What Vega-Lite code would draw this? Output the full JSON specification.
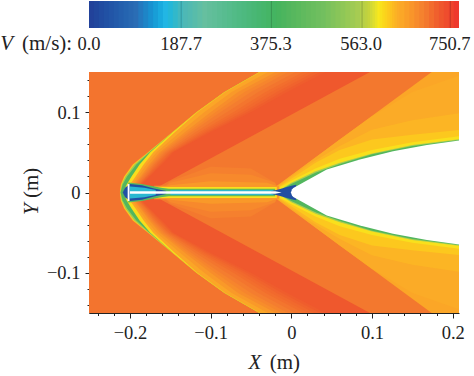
{"$schema":"https://vega.github.io/schema/vega-lite/v6.json","background":"white","padding":0,"bounds":"flush","spacing":44,"config":{"view":{"stroke":null},"text":{"font":"Liberation Serif","fontSize":18.5,"color":"#222"},"axis":{"labelFont":"Liberation Serif","labelFontSize":18.5,"labelColor":"#222"}},
"datasets":{"bar":[{"v":0},{"v":10},{"v":20},{"v":30},{"v":40},{"v":50},{"v":60},{"v":70},{"v":80},{"v":90},{"v":100},{"v":110},{"v":120},{"v":130},{"v":140},{"v":150},{"v":160},{"v":170},{"v":180},{"v":190},{"v":200},{"v":210},{"v":220},{"v":230},{"v":240},{"v":250},{"v":260},{"v":270},{"v":280},{"v":290},{"v":300},{"v":310},{"v":320},{"v":330},{"v":340},{"v":350},{"v":360},{"v":370},{"v":380},{"v":390},{"v":400},{"v":410},{"v":420},{"v":430},{"v":440},{"v":450},{"v":460},{"v":470},{"v":480},{"v":490},{"v":500},{"v":510},{"v":520},{"v":530},{"v":540},{"v":550},{"v":555},{"v":560},{"v":565},{"v":570},{"v":575},{"v":580},{"v":585},{"v":590},{"v":595},{"v":600},{"v":605},{"v":610},{"v":615},{"v":620},{"v":625},{"v":630},{"v":640},{"v":650},{"v":660},{"v":670},{"v":680},{"v":690},{"v":700},{"v":710},{"v":720},{"v":730},{"v":740}],
"barticks":[{"v":187},{"v":370},{"v":554},{"v":733}],
"barlabels":[{"t":"0.0","v":0,"h":-0.6},{"t":"187.7","v":187,"h":-0.6},{"t":"375.3","v":369,"h":-0.6},{"t":"563.0","v":552,"h":-0.6},{"t":"750.7","v":732,"h":-0.6}],
"bartitle":[{"t":"(m/s):","v":-136,"h":-0.6}],
"bartitleV":[{"t":"V","v":-180,"h":-0.6}],
"titlesItalic":[{"t":"X","x":-0.045,"y":-0.2124,"a":0},{"t":"Y","x":-0.3213,"y":-0.0208,"a":270}],
"titles":[{"t":"(m)","x":-0.008,"y":-0.2124,"a":0},{"t":"(m)","x":-0.3213,"y":0.012,"a":270}],
"flow":[
{"r":"bg","v":683,"x":-0.26,"y":0.2,"y2":-0.2},{"r":"bg","v":683,"x":0.25,"y":0.2,"y2":-0.2},
{"r":"c1","v":652,"x":-0.2125,"y":0,"y2":0},{"r":"c1","v":652,"x":-0.2115,"y":0.01,"y2":-0.01},{"r":"c1","v":652,"x":-0.2075,"y":0.02,"y2":-0.02},{"r":"c1","v":652,"x":-0.197,"y":0.035,"y2":-0.035},{"r":"c1","v":652,"x":-0.178,"y":0.05,"y2":-0.05},{"r":"c1","v":652,"x":-0.148,"y":0.075,"y2":-0.075},{"r":"c1","v":652,"x":-0.118,"y":0.1,"y2":-0.1},{"r":"c1","v":652,"x":-0.083,"y":0.125,"y2":-0.125},{"r":"c1","v":652,"x":-0.031,"y":0.155,"y2":-0.155},{"r":"c1","v":652,"x":0.25,"y":0.155,"y2":-0.155},
{"r":"c2","v":600,"x":-0.2122,"y":0,"y2":0},{"r":"c2","v":600,"x":-0.211,"y":0.01,"y2":-0.01},{"r":"c2","v":600,"x":-0.2068,"y":0.02,"y2":-0.02},{"r":"c2","v":600,"x":-0.196,"y":0.035,"y2":-0.035},{"r":"c2","v":600,"x":-0.1772,"y":0.05,"y2":-0.05},{"r":"c2","v":600,"x":-0.147,"y":0.075,"y2":-0.075},{"r":"c2","v":600,"x":-0.1175,"y":0.1,"y2":-0.1},{"r":"c2","v":600,"x":-0.0828,"y":0.125,"y2":-0.125},{"r":"c2","v":600,"x":-0.0308,"y":0.155,"y2":-0.155},{"r":"c2","v":600,"x":0.25,"y":0.155,"y2":-0.155},
{"r":"c3","v":530,"x":-0.212,"y":0,"y2":0},{"r":"c3","v":530,"x":-0.2102,"y":0.01,"y2":-0.01},{"r":"c3","v":530,"x":-0.2055,"y":0.02,"y2":-0.02},{"r":"c3","v":530,"x":-0.1945,"y":0.035,"y2":-0.035},{"r":"c3","v":530,"x":-0.1768,"y":0.05,"y2":-0.05},{"r":"c3","v":530,"x":-0.1466,"y":0.075,"y2":-0.075},{"r":"c3","v":530,"x":-0.1168,"y":0.1,"y2":-0.1},{"r":"c3","v":530,"x":-0.0822,"y":0.125,"y2":-0.125},{"r":"c3","v":530,"x":-0.0303,"y":0.155,"y2":-0.155},{"r":"c3","v":530,"x":0.25,"y":0.155,"y2":-0.155},
{"r":"c4","v":400,"x":-0.2115,"y":0,"y2":0},{"r":"c4","v":400,"x":-0.209,"y":0.01,"y2":-0.01},{"r":"c4","v":400,"x":-0.2035,"y":0.02,"y2":-0.02},{"r":"c4","v":400,"x":-0.192,"y":0.035,"y2":-0.035},{"r":"c4","v":400,"x":-0.1755,"y":0.05,"y2":-0.05},{"r":"c4","v":400,"x":-0.1462,"y":0.075,"y2":-0.075},{"r":"c4","v":400,"x":-0.1165,"y":0.1,"y2":-0.1},{"r":"c4","v":400,"x":-0.082,"y":0.125,"y2":-0.125},{"r":"c4","v":400,"x":-0.03,"y":0.155,"y2":-0.155},{"r":"c4","v":400,"x":0.25,"y":0.155,"y2":-0.155},
{"r":"c5","v":592,"x":-0.2085,"y":0,"y2":0},{"r":"c5","v":592,"x":-0.204,"y":0.01,"y2":-0.01},{"r":"c5","v":592,"x":-0.198,"y":0.02,"y2":-0.02},{"r":"c5","v":592,"x":-0.188,"y":0.035,"y2":-0.035},{"r":"c5","v":592,"x":-0.1748,"y":0.05,"y2":-0.05},{"r":"c5","v":592,"x":-0.1468,"y":0.075,"y2":-0.075},{"r":"c5","v":592,"x":-0.1172,"y":0.1,"y2":-0.1},{"r":"c5","v":592,"x":-0.0825,"y":0.125,"y2":-0.125},{"r":"c5","v":592,"x":-0.0305,"y":0.155,"y2":-0.155},{"r":"c5","v":592,"x":0.25,"y":0.155,"y2":-0.155},
{"r":"c6","v":632,"x":-0.205,"y":0,"y2":0},{"r":"c6","v":632,"x":-0.2,"y":0.01,"y2":-0.01},{"r":"c6","v":632,"x":-0.193,"y":0.02,"y2":-0.02},{"r":"c6","v":632,"x":-0.183,"y":0.035,"y2":-0.035},{"r":"c6","v":632,"x":-0.171,"y":0.05,"y2":-0.05},{"r":"c6","v":632,"x":-0.1445,"y":0.075,"y2":-0.075},{"r":"c6","v":632,"x":-0.1165,"y":0.1,"y2":-0.1},{"r":"c6","v":632,"x":-0.082,"y":0.125,"y2":-0.125},{"r":"c6","v":632,"x":-0.03,"y":0.155,"y2":-0.155},{"r":"c6","v":632,"x":0.25,"y":0.155,"y2":-0.155},
{"r":"h1","v":645,"x":-0.2025,"y":0,"y2":0},{"r":"h1","v":645,"x":-0.1975,"y":0.01,"y2":-0.01},{"r":"h1","v":645,"x":-0.19,"y":0.02,"y2":-0.02},{"r":"h1","v":645,"x":-0.1795,"y":0.035,"y2":-0.035},{"r":"h1","v":645,"x":-0.167,"y":0.05,"y2":-0.05},{"r":"h1","v":645,"x":-0.138,"y":0.075,"y2":-0.075},{"r":"h1","v":645,"x":-0.108,"y":0.1,"y2":-0.1},{"r":"h1","v":645,"x":-0.074,"y":0.125,"y2":-0.125},{"r":"h1","v":645,"x":-0.02,"y":0.155,"y2":-0.155},{"r":"h1","v":645,"x":0.25,"y":0.155,"y2":-0.155},
{"r":"g1","v":658,"x":-0.2,"y":0,"y2":0},{"r":"g1","v":658,"x":-0.195,"y":0.01,"y2":-0.01},{"r":"g1","v":658,"x":-0.187,"y":0.02,"y2":-0.02},{"r":"g1","v":658,"x":-0.176,"y":0.035,"y2":-0.035},{"r":"g1","v":658,"x":-0.163,"y":0.05,"y2":-0.05},{"r":"g1","v":658,"x":-0.132,"y":0.075,"y2":-0.075},{"r":"g1","v":658,"x":-0.1,"y":0.1,"y2":-0.1},{"r":"g1","v":658,"x":-0.066,"y":0.125,"y2":-0.125},{"r":"g1","v":658,"x":-0.01,"y":0.155,"y2":-0.155},{"r":"g1","v":658,"x":0.25,"y":0.155,"y2":-0.155},
{"r":"h2","v":667,"x":-0.1985,"y":0,"y2":0},{"r":"h2","v":667,"x":-0.1935,"y":0.01,"y2":-0.01},{"r":"h2","v":667,"x":-0.1855,"y":0.02,"y2":-0.02},{"r":"h2","v":667,"x":-0.174,"y":0.035,"y2":-0.035},{"r":"h2","v":667,"x":-0.1605,"y":0.05,"y2":-0.05},{"r":"h2","v":667,"x":-0.128,"y":0.075,"y2":-0.075},{"r":"h2","v":667,"x":-0.094,"y":0.1,"y2":-0.1},{"r":"h2","v":667,"x":-0.058,"y":0.125,"y2":-0.125},{"r":"h2","v":667,"x":-0.0025,"y":0.155,"y2":-0.155},{"r":"h2","v":667,"x":0.25,"y":0.155,"y2":-0.155},
{"r":"g2","v":675,"x":-0.197,"y":0,"y2":0},{"r":"g2","v":675,"x":-0.192,"y":0.01,"y2":-0.01},{"r":"g2","v":675,"x":-0.184,"y":0.02,"y2":-0.02},{"r":"g2","v":675,"x":-0.172,"y":0.035,"y2":-0.035},{"r":"g2","v":675,"x":-0.158,"y":0.05,"y2":-0.05},{"r":"g2","v":675,"x":-0.124,"y":0.075,"y2":-0.075},{"r":"g2","v":675,"x":-0.088,"y":0.1,"y2":-0.1},{"r":"g2","v":675,"x":-0.05,"y":0.125,"y2":-0.125},{"r":"g2","v":675,"x":0.005,"y":0.155,"y2":-0.155},{"r":"g2","v":675,"x":0.25,"y":0.155,"y2":-0.155},
{"r":"h3","v":682,"x":-0.1955,"y":0,"y2":0},{"r":"h3","v":682,"x":-0.1905,"y":0.01,"y2":-0.01},{"r":"h3","v":682,"x":-0.182,"y":0.02,"y2":-0.02},{"r":"h3","v":682,"x":-0.17,"y":0.035,"y2":-0.035},{"r":"h3","v":682,"x":-0.1555,"y":0.05,"y2":-0.05},{"r":"h3","v":682,"x":-0.119,"y":0.075,"y2":-0.075},{"r":"h3","v":682,"x":-0.08,"y":0.1,"y2":-0.1},{"r":"h3","v":682,"x":-0.041,"y":0.125,"y2":-0.125},{"r":"h3","v":682,"x":0.0145,"y":0.155,"y2":-0.155},{"r":"h3","v":682,"x":0.25,"y":0.155,"y2":-0.155},
{"r":"g3","v":688,"x":-0.194,"y":0,"y2":0},{"r":"g3","v":688,"x":-0.189,"y":0.01,"y2":-0.01},{"r":"g3","v":688,"x":-0.18,"y":0.02,"y2":-0.02},{"r":"g3","v":688,"x":-0.168,"y":0.035,"y2":-0.035},{"r":"g3","v":688,"x":-0.153,"y":0.05,"y2":-0.05},{"r":"g3","v":688,"x":-0.114,"y":0.075,"y2":-0.075},{"r":"g3","v":688,"x":-0.072,"y":0.1,"y2":-0.1},{"r":"g3","v":688,"x":-0.032,"y":0.125,"y2":-0.125},{"r":"g3","v":688,"x":0.024,"y":0.155,"y2":-0.155},{"r":"g3","v":688,"x":0.25,"y":0.155,"y2":-0.155},
{"r":"h4","v":693,"x":-0.193,"y":0,"y2":0},{"r":"h4","v":693,"x":-0.188,"y":0.01,"y2":-0.01},{"r":"h4","v":693,"x":-0.179,"y":0.02,"y2":-0.02},{"r":"h4","v":693,"x":-0.166,"y":0.035,"y2":-0.035},{"r":"h4","v":693,"x":-0.151,"y":0.05,"y2":-0.05},{"r":"h4","v":693,"x":-0.1105,"y":0.075,"y2":-0.075},{"r":"h4","v":693,"x":-0.066,"y":0.1,"y2":-0.1},{"r":"h4","v":693,"x":-0.025,"y":0.125,"y2":-0.125},{"r":"h4","v":693,"x":0.031,"y":0.155,"y2":-0.155},{"r":"h4","v":693,"x":0.25,"y":0.155,"y2":-0.155},
{"r":"g4","v":698,"x":-0.192,"y":0,"y2":0},{"r":"g4","v":698,"x":-0.187,"y":0.01,"y2":-0.01},{"r":"g4","v":698,"x":-0.178,"y":0.02,"y2":-0.02},{"r":"g4","v":698,"x":-0.164,"y":0.035,"y2":-0.035},{"r":"g4","v":698,"x":-0.149,"y":0.05,"y2":-0.05},{"r":"g4","v":698,"x":-0.107,"y":0.075,"y2":-0.075},{"r":"g4","v":698,"x":-0.06,"y":0.1,"y2":-0.1},{"r":"g4","v":698,"x":-0.018,"y":0.125,"y2":-0.125},{"r":"g4","v":698,"x":0.038,"y":0.155,"y2":-0.155},{"r":"g4","v":698,"x":0.25,"y":0.155,"y2":-0.155},
{"r":"h5","v":703,"x":-0.191,"y":0,"y2":0},{"r":"h5","v":703,"x":-0.186,"y":0.01,"y2":-0.01},{"r":"h5","v":703,"x":-0.1765,"y":0.02,"y2":-0.02},{"r":"h5","v":703,"x":-0.162,"y":0.035,"y2":-0.035},{"r":"h5","v":703,"x":-0.1475,"y":0.05,"y2":-0.05},{"r":"h5","v":703,"x":-0.1035,"y":0.075,"y2":-0.075},{"r":"h5","v":703,"x":-0.055,"y":0.1,"y2":-0.1},{"r":"h5","v":703,"x":-0.0115,"y":0.125,"y2":-0.125},{"r":"h5","v":703,"x":0.045,"y":0.155,"y2":-0.155},{"r":"h5","v":703,"x":0.25,"y":0.155,"y2":-0.155},
{"r":"g5","v":708,"x":-0.19,"y":0,"y2":0},{"r":"g5","v":708,"x":-0.185,"y":0.01,"y2":-0.01},{"r":"g5","v":708,"x":-0.175,"y":0.02,"y2":-0.02},{"r":"g5","v":708,"x":-0.16,"y":0.035,"y2":-0.035},{"r":"g5","v":708,"x":-0.146,"y":0.05,"y2":-0.05},{"r":"g5","v":708,"x":-0.1,"y":0.075,"y2":-0.075},{"r":"g5","v":708,"x":-0.05,"y":0.1,"y2":-0.1},{"r":"g5","v":708,"x":-0.005,"y":0.125,"y2":-0.125},{"r":"g5","v":708,"x":0.052,"y":0.155,"y2":-0.155},{"r":"g5","v":708,"x":0.25,"y":0.155,"y2":-0.155},
{"r":"e","v":680,"x":-0.178,"y":0,"y2":0},{"r":"e","v":680,"x":-0.163,"y":0.008,"y2":-0.008},{"r":"e","v":680,"x":0.0975,"y":0.15,"y2":-0.15},{"r":"e","v":680,"x":0.105,"y":0.155,"y2":-0.155},{"r":"e","v":680,"x":0.25,"y":0.155,"y2":-0.155},
{"r":"t0","v":672,"x":-0.165,"y":0,"y2":0},{"r":"t0","v":672,"x":-0.15,"y":0.014,"y2":-0.014},{"r":"t0","v":672,"x":-0.1,"y":0.032,"y2":-0.032},{"r":"t0","v":672,"x":-0.05,"y":0.03,"y2":-0.03},{"r":"t0","v":672,"x":-0.02,"y":0.012,"y2":-0.012},{"r":"t0","v":672,"x":-0.015,"y":0,"y2":0},
{"r":"t1","v":662,"x":-0.165,"y":0,"y2":0},{"r":"t1","v":662,"x":-0.15,"y":0.012,"y2":-0.012},{"r":"t1","v":662,"x":-0.1,"y":0.024,"y2":-0.024},{"r":"t1","v":662,"x":-0.05,"y":0.022,"y2":-0.022},{"r":"t1","v":662,"x":-0.02,"y":0.012,"y2":-0.012},{"r":"t1","v":662,"x":-0.015,"y":0,"y2":0},
{"r":"t2","v":645,"x":-0.16,"y":0,"y2":0},{"r":"t2","v":645,"x":-0.15,"y":0.009,"y2":-0.009},{"r":"t2","v":645,"x":-0.1,"y":0.014,"y2":-0.014},{"r":"t2","v":645,"x":-0.03,"y":0.012,"y2":-0.012},{"r":"t2","v":645,"x":-0.018,"y":0.008,"y2":-0.008},{"r":"t2","v":645,"x":-0.015,"y":0,"y2":0},
{"r":"w0","v":632,"x":-0.02,"y":0.007,"y2":-0.007},{"r":"w0","v":632,"x":0.174,"y":0.15,"y2":-0.15},{"r":"w0","v":632,"x":0.182,"y":0.155,"y2":-0.155},{"r":"w0","v":632,"x":0.25,"y":0.155,"y2":-0.155},
{"r":"w0b","v":626,"x":-0.019,"y":0.007,"y2":-0.007},{"r":"w0b","v":626,"x":0.02,"y":0.036,"y2":-0.036},{"r":"w0b","v":626,"x":0.06,"y":0.066,"y2":-0.066},{"r":"w0b","v":626,"x":0.1,"y":0.095,"y2":-0.095},{"r":"w0b","v":626,"x":0.15,"y":0.125,"y2":-0.125},{"r":"w0b","v":626,"x":0.25,"y":0.16,"y2":-0.16},
{"r":"w1","v":618,"x":-0.018,"y":0.007,"y2":-0.007},{"r":"w1","v":618,"x":0.02,"y":0.034,"y2":-0.034},{"r":"w1","v":618,"x":0.06,"y":0.058,"y2":-0.058},{"r":"w1","v":618,"x":0.1,"y":0.078,"y2":-0.078},{"r":"w1","v":618,"x":0.15,"y":0.09,"y2":-0.09},{"r":"w1","v":618,"x":0.25,"y":0.105,"y2":-0.105},
{"r":"w2","v":606,"x":-0.016,"y":0.007,"y2":-0.007},{"r":"w2","v":606,"x":0,"y":0.017,"y2":-0.017},{"r":"w2","v":606,"x":0.03,"y":0.037,"y2":-0.037},{"r":"w2","v":606,"x":0.06,"y":0.053,"y2":-0.053},{"r":"w2","v":606,"x":0.1,"y":0.066,"y2":-0.066},{"r":"w2","v":606,"x":0.15,"y":0.072,"y2":-0.072},{"r":"w2","v":606,"x":0.25,"y":0.082,"y2":-0.082},
{"r":"w3","v":590,"x":-0.014,"y":0.007,"y2":-0.007},{"r":"w3","v":590,"x":0,"y":0.0145,"y2":-0.0145},{"r":"w3","v":590,"x":0.03,"y":0.03,"y2":-0.03},{"r":"w3","v":590,"x":0.06,"y":0.042,"y2":-0.042},{"r":"w3","v":590,"x":0.1,"y":0.053,"y2":-0.053},{"r":"w3","v":590,"x":0.15,"y":0.0625,"y2":-0.0625},{"r":"w3","v":590,"x":0.25,"y":0.0755,"y2":-0.0755},
{"r":"w4","v":540,"x":-0.01,"y":0.006,"y2":-0.006},{"r":"w4","v":540,"x":0,"y":0.012,"y2":-0.012},{"r":"w4","v":540,"x":0.03,"y":0.0265,"y2":-0.0265},{"r":"w4","v":540,"x":0.06,"y":0.037,"y2":-0.037},{"r":"w4","v":540,"x":0.1,"y":0.0485,"y2":-0.0485},{"r":"w4","v":540,"x":0.15,"y":0.059,"y2":-0.059},{"r":"w4","v":540,"x":0.25,"y":0.0715,"y2":-0.0715},
{"r":"w5","v":400,"x":-0.01,"y":0.005,"y2":-0.005},{"r":"w5","v":400,"x":0,"y":0.0105,"y2":-0.0105},{"r":"w5","v":400,"x":0.03,"y":0.0245,"y2":-0.0245},{"r":"w5","v":400,"x":0.06,"y":0.0355,"y2":-0.0355},{"r":"w5","v":400,"x":0.1,"y":0.0475,"y2":-0.0475},{"r":"w5","v":400,"x":0.15,"y":0.058,"y2":-0.058},{"r":"w5","v":400,"x":0.25,"y":0.0705,"y2":-0.0705},
{"r":"p1","v":645,"x":-0.17,"y":0.0085,"y2":-0.0085},{"r":"p1","v":645,"x":-0.015,"y":0.0085,"y2":-0.0085},
{"r":"p2","v":590,"x":-0.165,"y":0.0068,"y2":-0.0068},{"r":"p2","v":590,"x":-0.018,"y":0.0068,"y2":-0.0068},
{"r":"p3","v":430,"x":-0.165,"y":0.0048,"y2":-0.0048},{"r":"p3","v":430,"x":-0.02,"y":0.0048,"y2":-0.0048},
{"r":"p4","v":170,"x":-0.165,"y":0.003,"y2":-0.003},{"r":"p4","v":170,"x":-0.022,"y":0.003,"y2":-0.003},
{"r":"i1","v":420,"x":-0.202,"y":0.0125,"y2":-0.0125},{"r":"i1","v":420,"x":-0.185,"y":0.0105,"y2":-0.0105},{"r":"i1","v":420,"x":-0.165,"y":0.0065,"y2":-0.0065},{"r":"i1","v":420,"x":-0.15,"y":0.004,"y2":-0.004},
{"r":"i2","v":30,"x":-0.209,"y":0,"y2":0},{"r":"i2","v":30,"x":-0.206,"y":0.006,"y2":-0.006},{"r":"i2","v":30,"x":-0.2,"y":0.0105,"y2":-0.0105},{"r":"i2","v":30,"x":-0.185,"y":0.009,"y2":-0.009},{"r":"i2","v":30,"x":-0.17,"y":0.005,"y2":-0.005},{"r":"i2","v":30,"x":-0.155,"y":0.002,"y2":-0.002},
{"r":"i3","v":165,"x":-0.2,"y":0.0075,"y2":-0.0075},{"r":"i3","v":165,"x":-0.182,"y":0.006,"y2":-0.006},{"r":"i3","v":165,"x":-0.168,"y":0.003,"y2":-0.003},
{"r":"n1","v":25,"x":-0.025,"y":0.0015,"y2":-0.0015},{"r":"n1","v":25,"x":-0.015,"y":0.004,"y2":-0.004},{"r":"n1","v":25,"x":0,"y":0.0085,"y2":-0.0085},{"r":"n1","v":25,"x":0.006,"y":0.0095,"y2":-0.0095}
],
"white":[
{"r":"b","x":-0.0005,"y":0,"y2":0},{"r":"b","x":0.001,"y":0.004,"y2":-0.004},{"r":"b","x":0.0025,"y":0.0057,"y2":-0.0057},{"r":"b","x":0.0439,"y":0.0287,"y2":-0.0287},{"r":"b","x":0.085,"y":0.041,"y2":-0.041},{"r":"b","x":0.126,"y":0.0515,"y2":-0.0515},{"r":"b","x":0.168,"y":0.059,"y2":-0.059},{"r":"b","x":0.208,"y":0.0648,"y2":-0.0648},{"r":"b","x":0.25,"y":0.07,"y2":-0.07},
{"r":"pl","x":-0.2,"y":0.0017,"y2":-0.0017},{"r":"pl","x":-0.02,"y":0.0017,"y2":-0.0017},{"r":"pl","x":-0.012,"y":0,"y2":0},
{"r":"vt","x":-0.2028,"y":0.0105,"y2":-0.0105},{"r":"vt","x":-0.2005,"y":0.0105,"y2":-0.0105}
]},
"vconcat":[
{"width":370,"height":27,"layer":[
{"data":{"name":"bar"},"mark":{"type":"rect","stroke":null},"encoding":{"x":{"field":"v","type":"quantitative","scale":{"domain":[0,750.7],"nice":false,"zero":false},"axis":null},"x2":{"datum":750.7},"color":{"field":"v","type":"quantitative","legend":null,"scale":{"domain":[0,90,150,187.7,230,375,470,540,563,585,623,675,705,750.7],"range":["#22429a","#2a6db5","#22b6e4","#4db8b6","#66bf9f","#44b35e","#72bf5f","#a6cc52","#c2d23e","#f7e81e","#fbae27","#f47d2f","#ef5a2d","#ed2b2e"]}}}},
{"data":{"name":"barticks"},"mark":{"type":"rule","color":"#000","opacity":0.18,"strokeWidth":1},"encoding":{"x":{"field":"v","type":"quantitative"}}},
{"data":{"name":"barlabels"},"mark":{"type":"text","align":"center","baseline":"middle"},"encoding":{"x":{"field":"v","type":"quantitative"},"y":{"field":"h","type":"quantitative","scale":{"domain":[0,1],"nice":false,"zero":false},"axis":null},"text":{"field":"t"}}},
{"data":{"name":"bartitle"},"mark":{"type":"text","align":"left","baseline":"middle","fontSize":21},"encoding":{"x":{"field":"v","type":"quantitative"},"y":{"field":"h","type":"quantitative"},"text":{"field":"t"}}},
{"data":{"name":"bartitleV"},"mark":{"type":"text","align":"left","baseline":"middle","fontStyle":"italic","fontSize":21},"encoding":{"x":{"field":"v","type":"quantitative"},"y":{"field":"h","type":"quantitative"},"text":{"field":"t"}}}
]},
{"width":370,"height":241,"resolve":{"axis":{"x":"independent","y":"independent"}},"layer":[
{"data":{"name":"flow"},"mark":{"type":"area","clip":true,"stroke":null,"opacity":1},"encoding":{
"x":{"field":"x","type":"quantitative","scale":{"domain":[-0.2507,0.2078],"nice":false,"zero":false},"axis":{"orient":"bottom","title":null,"values":[-0.2,-0.1,0,0.1,0.2],"grid":false,"domainColor":"#222","tickColor":"#222","labelFlush":false,"labelOverlap":false,"labelPadding":5,"tickSize":5,"labelExpr":"abs(datum.value)<0.001?'0':replace(format(datum.value,'.1f'),'-','−')"}},
"y":{"field":"y","type":"quantitative","scale":{"domain":[-0.15,0.15],"nice":false,"zero":false},"axis":{"orient":"left","title":null,"values":[-0.1,0,0.1],"grid":false,"domainColor":"#222","tickColor":"#222","labelOverlap":false,"labelPadding":5,"tickSize":4,"labelExpr":"abs(datum.value)<0.001?'0':replace(format(datum.value,'.1f'),'-','−')"}},
"y2":{"field":"y2"},"detail":{"field":"r"},
"color":{"field":"v","type":"quantitative","legend":null,"scale":{"domain":[0,90,150,187.7,230,375,470,540,563,585,623,675,705,750.7],"range":["#22429a","#2a6db5","#22b6e4","#4db8b6","#66bf9f","#44b35e","#72bf5f","#a6cc52","#c2d23e","#f7e81e","#fbae27","#f47d2f","#ef5a2d","#ed2b2e"]}}}},
{"data":{"name":"white"},"mark":{"type":"area","clip":true,"color":"white"},"encoding":{"x":{"field":"x","type":"quantitative","axis":{"orient":"bottom","title":null,"values":[-0.24,-0.22,-0.18,-0.16,-0.14,-0.12,-0.08,-0.06,-0.04,-0.02,0.02,0.04,0.06,0.08,0.12,0.14,0.16,0.18],"grid":false,"labels":false,"domain":false,"tickColor":"#222","tickSize":2.5}},"y":{"field":"y","type":"quantitative","axis":{"orient":"left","title":null,"values":[-0.14,-0.12,-0.08,-0.06,-0.04,-0.02,0.02,0.04,0.06,0.08,0.12,0.14],"grid":false,"labels":false,"domain":false,"tickColor":"#222","tickSize":2}},"y2":{"field":"y2"},"detail":{"field":"r"}}},
{"data":{"name":"titles"},"mark":{"type":"text","align":"center","baseline":"middle","fontSize":21},"encoding":{"x":{"field":"x","type":"quantitative","axis":null},"y":{"field":"y","type":"quantitative","axis":null},"text":{"field":"t"},"angle":{"field":"a","type":"quantitative","scale":null}}},
{"data":{"name":"titlesItalic"},"mark":{"type":"text","align":"center","baseline":"middle","fontStyle":"italic","fontSize":21},"encoding":{"x":{"field":"x","type":"quantitative","axis":null},"y":{"field":"y","type":"quantitative","axis":null},"text":{"field":"t"},"angle":{"field":"a","type":"quantitative","scale":null}}}
]}
]}
